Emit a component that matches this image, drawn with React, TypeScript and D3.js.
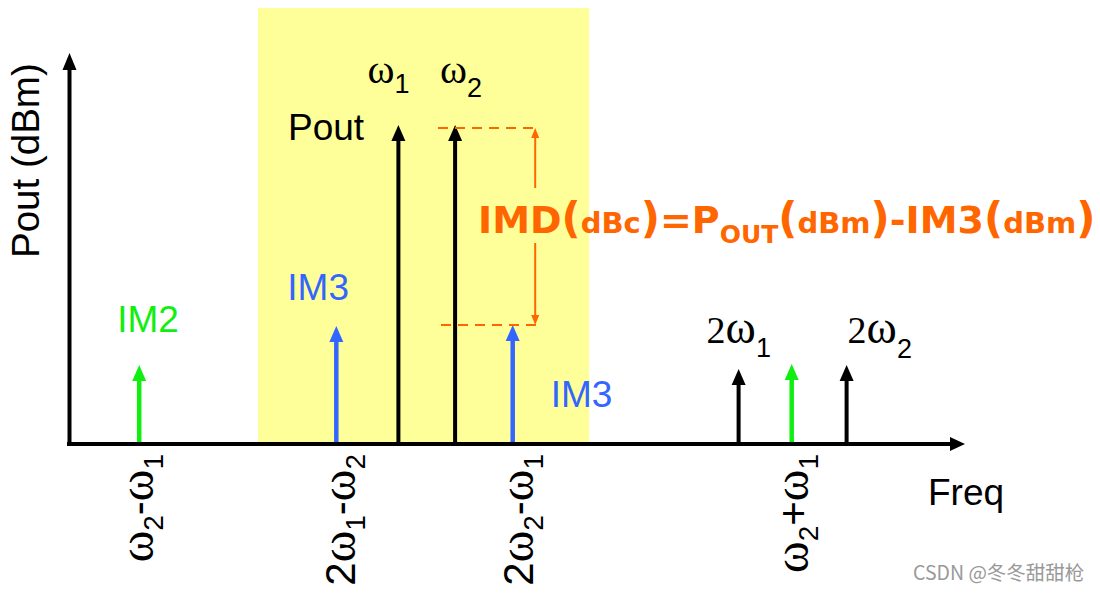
import React from "react";
import * as d3 from "d3";

// ---- data ----
const lineNames = ["ω2-ω1", "2ω1-ω2", "ω1", "ω2", "2ω2-ω1", "2ω1", "ω2+ω1", "2ω2"];
const lineFreq = [7.8, 29.7, 36.6, 42.9, 49.3, 74.4, 80.3, 86.4];
const lineLevel = [19.75, 29.5, 79.75, 79.75, 29.75, 18.75, 20, 19.75];
const lineKind = ["IM2", "IM3", "fund", "fund", "IM3", "harm", "IM2", "harm"];

const tickFreq = [7.8, 29.7, 49.3, 80.3];
// token types: n = normal, w = omega, s = subscript
const tickTokens = [
  [["ω", "w"], ["2", "s"], ["-", "n"], ["ω", "w"], ["1", "s"]],
  [["2", "n"], ["ω", "w"], ["1", "s"], ["-", "n"], ["ω", "w"], ["2", "s"]],
  [["2", "n"], ["ω", "w"], ["2", "s"], ["-", "n"], ["ω", "w"], ["1", "s"]],
  [["ω", "w"], ["2", "s"], ["+", "n"], ["ω", "w"], ["1", "s"]],
];

const bandFreq = [21, 57.8];
const bandTop = 109;
const imdLevels = [79, 29.75];
const imdFreq = [41, 52];
const imdArrowFreq = 51.8;

const W = 1100;
const H = 593;

const kindColor: Record<string, string> = {
  IM2: "#11EE11",
  IM3: "#3366FF",
  fund: "#000000",
  harm: "#000000",
};
const ORANGE = "#FF6600";
const SANS = "'Liberation Sans', Arial, sans-serif";
const SERIF = "'Liberation Serif', 'Times New Roman', serif";
const BOLD = "'DejaVu Sans', Verdana, sans-serif";
const tickDx = [14, 19, 20, 16];

export default function App() {
  const x = d3.scaleLinear().domain([0, 100]).range([69, 969]);
  const y = d3.scaleLinear().domain([0, 100]).range([444, 44]);
  const y0 = y(0);

  const arrowHead = (cx: number, tipY: number, w: number, h: number, dir = 1) =>
    `M${cx},${tipY} L${cx - w / 2},${tipY + dir * h} L${cx + w / 2},${tipY + dir * h} Z`;

  const imdX = x(imdArrowFreq);
  const imdTop = y(imdLevels[0]);
  const imdBot = y(imdLevels[1]);

  return (
    <svg
      width={W}
      height={H}
      style={{ position: "absolute", left: 0, top: 0, background: "#fff" }}
      xmlns="http://www.w3.org/2000/svg"
    >
      {/* highlight band */}
      <rect
        x={x(bandFreq[0])}
        y={y(bandTop)}
        width={x(bandFreq[1]) - x(bandFreq[0])}
        height={y0 - y(bandTop)}
        fill="#FFFF99"
      />

      {/* spectral lines */}
      {lineFreq.map((f, i) => {
        const cx = x(f);
        const tip = y(lineLevel[i]);
        const c = kindColor[lineKind[i]];
        const colored = lineKind[i] === "IM2" || lineKind[i] === "IM3";
        return (
          <g key={lineNames[i]}>
            <line x1={cx} x2={cx} y1={y0} y2={tip + 10} stroke={c} strokeWidth={colored ? 4.5 : 4} />
            <path d={arrowHead(cx, tip, 14, 16)} fill={c} />
          </g>
        );
      })}

      {/* axes */}
      <line x1={69.5} x2={69.5} y1={y0 + 2} y2={66} stroke="#000" strokeWidth={4} />
      <path d={arrowHead(69.5, 53, 14, 17)} fill="#000" />
      <line x1={67} x2={952} y1={y0} y2={y0} stroke="#000" strokeWidth={4} />
      <path d={`M965,${y0} L950,${y0 - 7} L950,${y0 + 7} Z`} fill="#000" />

      {/* IMD dashed reference lines */}
      {imdLevels.map((lv, i) => (
        <line
          key={i}
          x1={x(imdFreq[0]) + (i === 0 ? 0 : 3)}
          x2={x(imdFreq[1])}
          y1={y(lv)}
          y2={y(lv)}
          stroke={ORANGE}
          strokeWidth={2}
          strokeDasharray="10,7"
        />
      ))}
      <line x1={imdX} x2={imdX} y1={imdTop + 8} y2={188} stroke={ORANGE} strokeWidth={2} />
      <line x1={imdX} x2={imdX} y1={243} y2={imdBot - 8} stroke={ORANGE} strokeWidth={2} />
      <path d={arrowHead(imdX, imdTop, 8, 10)} fill={ORANGE} />
      <path d={arrowHead(imdX, imdBot, 8, 10, -1)} fill={ORANGE} />

      {/* y axis title */}
      <text transform="translate(39,258) rotate(-90)" fontFamily={SANS} fontSize={38.5} fill="#000">
        Pout (dBm)
      </text>

      {/* x axis title */}
      <text x={928} y={505} fontFamily={SANS} fontSize={37} fill="#000">
        Freq
      </text>

      {/* line labels */}
      <text x={288} y={140} fontFamily={SANS} fontSize={37} fill="#000">
        Pout
      </text>
      <text x={x(lineFreq[2]) - 31} y={83} fontFamily={SERIF} fontSize={41} fill="#000">
        ω<tspan fontFamily={SANS} fontSize={27} dy={10}>1</tspan>
      </text>
      <text x={x(lineFreq[3]) - 15} y={83} fontFamily={SERIF} fontSize={41} fill="#000">
        ω<tspan fontFamily={SANS} fontSize={27} dy={14}>2</tspan>
      </text>
      <text x={x(lineFreq[0]) - 22} y={332} fontFamily={SANS} fontSize={37} fill={kindColor.IM2}>
        IM2
      </text>
      <text x={x(lineFreq[1]) - 49} y={300} fontFamily={SANS} fontSize={37} fill={kindColor.IM3}>
        IM3
      </text>
      <text x={x(lineFreq[4]) + 38} y={407} fontFamily={SANS} fontSize={37} fill={kindColor.IM3}>
        IM3
      </text>
      <text x={x(lineFreq[5]) - 32} y={343} fontFamily={SERIF} fontSize={38} fill="#000">
        2<tspan fontSize={46}>ω</tspan>
        <tspan fontFamily={SANS} fontSize={27} dy={14}>1</tspan>
      </text>
      <text x={x(lineFreq[7]) + 1} y={343} fontFamily={SERIF} fontSize={38} fill="#000">
        2<tspan fontSize={46}>ω</tspan>
        <tspan fontFamily={SANS} fontSize={27} dy={15}>2</tspan>
      </text>

      {/* IMD formula */}
      <text x={478} y={233} fontFamily={BOLD} fontWeight="bold" fill={ORANGE} fontSize={38}>
        IMD<tspan fontSize={42}>(</tspan>
        <tspan fontSize={29}>dBc</tspan>
        <tspan fontSize={42}>)</tspan>=P
        <tspan fontSize={25} dy={10}>OUT</tspan>
        <tspan fontSize={42} dy={-10}>(</tspan>
        <tspan fontSize={29}>dBm</tspan>
        <tspan fontSize={42}>)</tspan>-IM3
        <tspan fontSize={42}>(</tspan>
        <tspan fontSize={29}>dBm</tspan>
        <tspan fontSize={42}>)</tspan>
      </text>

      {/* bottom rotated tick labels */}
      {tickFreq.map((f, i) => {
        let level = 0;
        return (
          <text
            key={i}
            transform={`translate(${x(f) + tickDx[i]},454) rotate(-90)`}
            textAnchor="end"
            fontFamily={SANS}
            fontSize={42}
            fill="#000"
          >
            {tickTokens[i].map(([t, kind], j) => {
              const target = kind === "s" ? 10 : 0;
              const dy = target - level;
              level = target;
              return (
                <tspan
                  key={j}
                  fontFamily={kind === "w" ? SERIF : SANS}
                  fontSize={kind === "s" ? 28 : kind === "w" ? 48 : 42}
                  dy={dy}
                >
                  {t}
                </tspan>
              );
            })}
          </text>
        );
      })}

      {/* watermark */}
      <text x={913} y={580} fontFamily="'Noto Sans CJK SC', 'Noto Sans', sans-serif" fontSize={19.5} fill="#999">
        CSDN @冬冬甜甜枪
      </text>
    </svg>
  );
}
